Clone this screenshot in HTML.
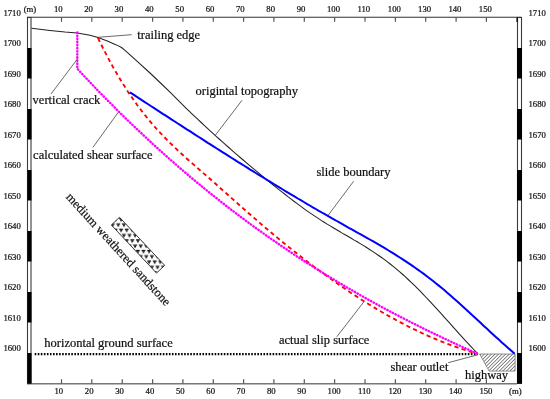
<!DOCTYPE html>
<html><head><meta charset="utf-8"><style>
html,body{margin:0;padding:0;background:#fff;}
svg{display:block;}
text{font-family:"Liberation Serif","Times New Roman",serif;fill:#111;stroke:#111;stroke-width:0.22px;}
</style></head><body>
<svg width="550" height="399" viewBox="0 0 550 399">
<line x1="27" y1="17.3" x2="521.5" y2="17.3" stroke="#333" stroke-width="1.1"/>
<line x1="27" y1="383.7" x2="517" y2="383.7" stroke="#777" stroke-width="1.5"/>
<rect x="27.5" y="17.5" width="3.5" height="366" fill="#fff" stroke="#3a3a3a" stroke-width="1.1"/>
<rect x="27.4" y="48.0" width="4.1" height="30.5" fill="#000"/>
<rect x="27.4" y="109.0" width="4.1" height="30.5" fill="#000"/>
<rect x="27.4" y="170.0" width="4.1" height="30.5" fill="#000"/>
<rect x="27.4" y="231.0" width="4.1" height="30.5" fill="#000"/>
<rect x="27.4" y="292.0" width="4.1" height="30.5" fill="#000"/>
<rect x="27.4" y="353.0" width="4.1" height="30.5" fill="#000"/>
<rect x="517.5" y="17.5" width="4" height="366" fill="#fff" stroke="#3a3a3a" stroke-width="1.1"/>
<rect x="517" y="48.0" width="5" height="30.5" fill="#000"/>
<rect x="517" y="109.0" width="5" height="30.5" fill="#000"/>
<rect x="517" y="170.0" width="5" height="30.5" fill="#000"/>
<rect x="517" y="231.0" width="5" height="30.5" fill="#000"/>
<rect x="517" y="292.0" width="5" height="30.5" fill="#000"/>
<rect x="517" y="353.0" width="5" height="30.5" fill="#000"/>
<line x1="517.2" y1="17.5" x2="517.2" y2="22" stroke="#111" stroke-width="1.6"/>
<line x1="61.5" y1="17.5" x2="61.5" y2="21.8" stroke="#555" stroke-width="1.2"/>
<line x1="61.5" y1="383.5" x2="61.5" y2="379.3" stroke="#555" stroke-width="1.2"/>
<text x="53.9" y="11.8" font-size="8.7">10</text>
<text x="54.5" y="394" font-size="8.7">10</text>
<line x1="91.8" y1="17.5" x2="91.8" y2="21.8" stroke="#555" stroke-width="1.2"/>
<line x1="91.8" y1="383.5" x2="91.8" y2="379.3" stroke="#555" stroke-width="1.2"/>
<text x="84.2" y="11.8" font-size="8.7">20</text>
<text x="84.8" y="394" font-size="8.7">20</text>
<line x1="122.2" y1="17.5" x2="122.2" y2="21.8" stroke="#555" stroke-width="1.2"/>
<line x1="122.2" y1="383.5" x2="122.2" y2="379.3" stroke="#555" stroke-width="1.2"/>
<text x="114.6" y="11.8" font-size="8.7">30</text>
<text x="115.2" y="394" font-size="8.7">30</text>
<line x1="152.6" y1="17.5" x2="152.6" y2="21.8" stroke="#555" stroke-width="1.2"/>
<line x1="152.6" y1="383.5" x2="152.6" y2="379.3" stroke="#555" stroke-width="1.2"/>
<text x="145.0" y="11.8" font-size="8.7">40</text>
<text x="145.6" y="394" font-size="8.7">40</text>
<line x1="182.9" y1="17.5" x2="182.9" y2="21.8" stroke="#555" stroke-width="1.2"/>
<line x1="182.9" y1="383.5" x2="182.9" y2="379.3" stroke="#555" stroke-width="1.2"/>
<text x="175.3" y="11.8" font-size="8.7">50</text>
<text x="175.9" y="394" font-size="8.7">50</text>
<line x1="213.3" y1="17.5" x2="213.3" y2="21.8" stroke="#555" stroke-width="1.2"/>
<line x1="213.3" y1="383.5" x2="213.3" y2="379.3" stroke="#555" stroke-width="1.2"/>
<text x="205.7" y="11.8" font-size="8.7">60</text>
<text x="206.3" y="394" font-size="8.7">60</text>
<line x1="243.6" y1="17.5" x2="243.6" y2="21.8" stroke="#555" stroke-width="1.2"/>
<line x1="243.6" y1="383.5" x2="243.6" y2="379.3" stroke="#555" stroke-width="1.2"/>
<text x="236.0" y="11.8" font-size="8.7">70</text>
<text x="236.6" y="394" font-size="8.7">70</text>
<line x1="273.9" y1="17.5" x2="273.9" y2="21.8" stroke="#555" stroke-width="1.2"/>
<line x1="273.9" y1="383.5" x2="273.9" y2="379.3" stroke="#555" stroke-width="1.2"/>
<text x="266.3" y="11.8" font-size="8.7">80</text>
<text x="266.9" y="394" font-size="8.7">80</text>
<line x1="304.3" y1="17.5" x2="304.3" y2="21.8" stroke="#555" stroke-width="1.2"/>
<line x1="304.3" y1="383.5" x2="304.3" y2="379.3" stroke="#555" stroke-width="1.2"/>
<text x="296.7" y="11.8" font-size="8.7">90</text>
<text x="297.3" y="394" font-size="8.7">90</text>
<line x1="334.6" y1="17.5" x2="334.6" y2="21.8" stroke="#555" stroke-width="1.2"/>
<line x1="334.6" y1="383.5" x2="334.6" y2="379.3" stroke="#555" stroke-width="1.2"/>
<text x="327.0" y="11.8" font-size="8.7">100</text>
<text x="327.6" y="394" font-size="8.7">100</text>
<line x1="365.0" y1="17.5" x2="365.0" y2="21.8" stroke="#555" stroke-width="1.2"/>
<line x1="365.0" y1="383.5" x2="365.0" y2="379.3" stroke="#555" stroke-width="1.2"/>
<text x="357.4" y="11.8" font-size="8.7">110</text>
<text x="358.0" y="394" font-size="8.7">110</text>
<line x1="395.4" y1="17.5" x2="395.4" y2="21.8" stroke="#555" stroke-width="1.2"/>
<line x1="395.4" y1="383.5" x2="395.4" y2="379.3" stroke="#555" stroke-width="1.2"/>
<text x="387.8" y="11.8" font-size="8.7">100</text>
<text x="388.4" y="394" font-size="8.7">120</text>
<line x1="425.7" y1="17.5" x2="425.7" y2="21.8" stroke="#555" stroke-width="1.2"/>
<line x1="425.7" y1="383.5" x2="425.7" y2="379.3" stroke="#555" stroke-width="1.2"/>
<text x="418.1" y="11.8" font-size="8.7">130</text>
<text x="418.7" y="394" font-size="8.7">130</text>
<line x1="456.1" y1="17.5" x2="456.1" y2="21.8" stroke="#555" stroke-width="1.2"/>
<line x1="456.1" y1="383.5" x2="456.1" y2="379.3" stroke="#555" stroke-width="1.2"/>
<text x="448.4" y="11.8" font-size="8.7">140</text>
<text x="449.1" y="394" font-size="8.7">140</text>
<line x1="486.4" y1="17.5" x2="486.4" y2="21.8" stroke="#555" stroke-width="1.2"/>
<line x1="486.4" y1="383.5" x2="486.4" y2="379.3" stroke="#555" stroke-width="1.2"/>
<text x="478.8" y="11.8" font-size="8.7">150</text>
<text x="479.4" y="394" font-size="8.7">150</text>
<text x="30" y="11.9" font-size="8.7" text-anchor="middle">(m)</text>
<text x="515.3" y="394" font-size="8.7" text-anchor="middle">(m)</text>
<text x="20.8" y="351.0" font-size="8.7" text-anchor="end">1600</text>
<text x="528.5" y="351.0" font-size="8.7">1600</text>
<text x="20.8" y="320.5" font-size="8.7" text-anchor="end">1610</text>
<text x="528.5" y="320.5" font-size="8.7">1610</text>
<text x="20.8" y="290.0" font-size="8.7" text-anchor="end">1620</text>
<text x="528.5" y="290.0" font-size="8.7">1620</text>
<text x="20.8" y="259.5" font-size="8.7" text-anchor="end">1630</text>
<text x="528.5" y="259.5" font-size="8.7">1630</text>
<text x="20.8" y="229.0" font-size="8.7" text-anchor="end">1640</text>
<text x="528.5" y="229.0" font-size="8.7">1640</text>
<text x="20.8" y="198.5" font-size="8.7" text-anchor="end">1650</text>
<text x="528.5" y="198.5" font-size="8.7">1650</text>
<text x="20.8" y="168.0" font-size="8.7" text-anchor="end">1660</text>
<text x="528.5" y="168.0" font-size="8.7">1660</text>
<text x="20.8" y="137.5" font-size="8.7" text-anchor="end">1670</text>
<text x="528.5" y="137.5" font-size="8.7">1670</text>
<text x="20.8" y="107.0" font-size="8.7" text-anchor="end">1680</text>
<text x="528.5" y="107.0" font-size="8.7">1680</text>
<text x="20.8" y="76.5" font-size="8.7" text-anchor="end">1690</text>
<text x="528.5" y="76.5" font-size="8.7">1690</text>
<text x="20.8" y="46.0" font-size="8.7" text-anchor="end">1700</text>
<text x="528.5" y="46.0" font-size="8.7">1700</text>
<text x="20.8" y="15.5" font-size="8.7" text-anchor="end">1710</text>
<text x="528.5" y="15.5" font-size="8.7">1710</text>
<line x1="34.7" y1="354.1" x2="478" y2="354.1" stroke="#000" stroke-width="2.2" stroke-dasharray="1.6 1.45"/>
<defs><pattern id="hatch" patternUnits="userSpaceOnUse" width="2.5" height="2.5" patternTransform="rotate(45)"><line x1="0" y1="0" x2="0" y2="2.5" stroke="#000" stroke-width="0.95"/></pattern>
<pattern id="tri" patternUnits="userSpaceOnUse" x="118.3" y="224.8" width="5.6" height="10.6"><path d="M-1.3,-1 L1.3,-1 L0,1.3 Z M1.5,4.3 L4.1,4.3 L2.8,6.6 Z M4.3,-1 L6.9,-1 L5.6,1.3 Z M-1.3,9.6 L1.3,9.6 L0,11.9 Z M4.3,9.6 L6.9,9.6 L5.6,11.9 Z" fill="none" stroke="#111" stroke-width="1.0"/></pattern></defs>
<path d="M479.6,354 L515.1,354 L515.1,371.1 L489.2,371.1 Z" fill="url(#hatch)" stroke="#777" stroke-width="0.8"/>
<path d="M119.5,217.3 L164.7,265.4 L156.5,273.1 L111.3,225.0 Z" fill="url(#tri)" stroke="#222" stroke-width="0.9"/>
<path d="M31.5,28.2 L50.0,30.4 L65.0,32.0 L77.3,33.0 L90.0,35.2 L98.0,37.6 L108.0,41.3 L114.0,43.9 L118.0,45.6 L121.5,47.5 L125.0,50.4 L130.0,54.8 L140.0,63.8 L150.0,73.0 L160.0,82.5 L170.0,92.2 L178.0,100.2 L186.2,108.3 L189.2,111.2 L192.2,114.1 L195.2,116.9 L198.2,119.7 L201.2,122.5 L204.2,125.3 L207.2,128.1 L210.2,130.8 L213.2,133.6 L216.2,136.3 L219.2,139.0 L222.2,141.7 L225.2,144.4 L228.2,147.0 L231.2,149.6 L234.2,152.3 L237.2,154.9 L240.2,157.5 L243.2,160.0 L246.2,162.6 L249.2,165.1 L252.2,167.7 L255.2,170.2 L258.2,172.7 L261.2,175.2 L264.2,177.6 L267.2,180.1 L270.2,182.5 L273.2,185.0 L276.2,187.4 L279.2,189.8 L282.2,192.2 L285.2,194.5 L288.2,196.9 L291.2,199.2 L294.2,201.5 L297.2,203.7 L300.2,205.9 L303.2,208.1 L306.2,210.3 L309.2,212.4 L312.2,214.4 L315.2,216.4 L318.2,218.4 L321.2,220.4 L324.2,222.2 L327.2,224.1 L330.2,225.9 L333.2,227.7 L336.2,229.5 L339.2,231.3 L342.2,233.1 L345.2,234.8 L348.2,236.5 L351.2,238.3 L354.2,240.1 L357.2,241.8 L360.2,243.6 L363.2,245.4 L366.2,247.3 L369.2,249.2 L372.2,251.1 L375.2,253.1 L378.2,255.2 L381.2,257.3 L384.2,259.4 L387.2,261.7 L390.2,264.0 L393.2,266.4 L396.2,268.9 L399.2,271.4 L402.2,274.0 L405.2,276.7 L408.2,279.5 L411.2,282.3 L414.2,285.2 L417.2,288.2 L420.2,291.2 L423.2,294.3 L426.2,297.5 L429.2,300.7 L432.2,303.9 L435.2,307.1 L438.2,310.4 L441.2,313.7 L444.2,317.1 L447.2,320.4 L450.2,323.7 L453.2,327.1 L456.2,330.4 L459.2,333.8 L462.2,337.1 L465.2,340.3 L468.2,343.6 L471.2,346.8 L474.2,350.0 L477.2,353.2 L478.0,354.0" fill="none" stroke="#222" stroke-width="1.05"/>
<path d="M98.0,38.0 L101.0,44.2 L104.0,50.1 L107.0,55.9 L110.0,61.5 L113.0,67.0 L116.0,72.2 L119.0,77.3 L122.0,82.3 L125.0,87.0 L128.0,91.7 L131.0,96.1 L134.0,100.5 L137.0,104.7 L140.0,108.7 L143.0,112.6 L146.0,116.4 L149.0,120.1 L152.0,123.7 L155.0,127.1 L158.0,130.4 L161.0,133.7 L164.0,136.8 L167.0,139.9 L170.0,142.9 L173.0,145.8 L176.0,148.7 L179.0,151.5 L182.0,154.3 L185.0,157.0 L188.0,159.7 L191.0,162.3 L194.0,164.9 L197.0,167.6 L200.0,170.2 L203.0,172.8 L206.0,175.4 L209.0,178.0 L212.0,180.7 L215.0,183.3 L218.0,186.0 L221.0,188.7 L224.0,191.3 L227.0,194.0 L230.0,196.7 L233.0,199.4 L236.0,202.0 L239.0,204.7 L242.0,207.4 L245.0,210.0 L248.0,212.7 L251.0,215.3 L254.0,217.9 L257.0,220.5 L260.0,223.1 L263.0,225.7 L266.0,228.2 L269.0,230.8 L272.0,233.3 L275.0,235.8 L278.0,238.3 L281.0,240.7 L284.0,243.2 L287.0,245.6 L290.0,248.0 L293.0,250.4 L296.0,252.8 L299.0,255.2 L302.0,257.5 L305.0,259.8 L308.0,262.1 L311.0,264.4 L314.0,266.7 L317.0,268.9 L320.0,271.1 L323.0,273.3 L326.0,275.5 L329.0,277.7 L332.0,279.8 L335.0,281.9 L338.0,284.0 L341.0,286.1 L344.0,288.1 L347.0,290.2 L350.0,292.2 L353.0,294.2 L356.0,296.1 L359.0,298.1 L362.0,300.0 L365.0,301.9 L368.0,303.7 L371.0,305.6 L374.0,307.4 L377.0,309.2 L380.0,311.0 L383.0,312.7 L386.0,314.4 L389.0,316.1 L392.0,317.8 L395.0,319.4 L398.0,321.1 L401.0,322.6 L404.0,324.2 L407.0,325.8 L410.0,327.3 L413.0,328.8 L416.0,330.2 L419.0,331.6 L422.0,333.1 L425.0,334.4 L428.0,335.8 L431.0,337.1 L434.0,338.4 L437.0,339.7 L440.0,340.9 L443.0,342.1 L446.0,343.3 L449.0,344.4 L452.0,345.5 L455.0,346.6 L458.0,347.7 L461.0,348.7 L464.0,349.7 L467.0,350.7 L470.0,351.6 L473.0,352.5 L476.0,353.4 L478.0,354.0" fill="none" stroke="#ff0000" stroke-width="1.85" stroke-dasharray="4.2 3.3"/>
<path d="M77.3,32.5 L77.3,68.7 L80.3,71.9 L83.3,75.2 L86.3,78.3 L89.3,81.5 L92.3,84.7 L95.3,87.8 L98.3,90.9 L101.3,94.0 L104.3,97.1 L107.3,100.1 L110.3,103.1 L113.3,106.1 L116.3,109.1 L119.3,112.1 L122.3,115.0 L125.3,118.0 L128.3,120.9 L131.3,123.8 L134.3,126.6 L137.3,129.5 L140.3,132.3 L143.3,135.1 L146.3,137.9 L149.3,140.7 L152.3,143.5 L155.3,146.2 L158.3,148.9 L161.3,151.6 L164.3,154.3 L167.3,157.0 L170.3,159.6 L173.3,162.2 L176.3,164.9 L179.3,167.5 L182.3,170.0 L185.3,172.6 L188.3,175.1 L191.3,177.7 L194.3,180.2 L197.3,182.7 L200.3,185.1 L203.3,187.6 L206.3,190.0 L209.3,192.5 L212.3,194.9 L215.3,197.2 L218.3,199.6 L221.3,202.0 L224.3,204.3 L227.3,206.6 L230.3,209.0 L233.3,211.2 L236.3,213.5 L239.3,215.8 L242.3,218.0 L245.3,220.3 L248.3,222.5 L251.3,224.7 L254.3,226.9 L257.3,229.0 L260.3,231.2 L263.3,233.3 L266.3,235.5 L269.3,237.6 L272.3,239.7 L275.3,241.7 L278.3,243.8 L281.3,245.9 L284.3,247.9 L287.3,249.9 L290.3,251.9 L293.3,253.9 L296.3,255.9 L299.3,257.9 L302.3,259.8 L305.3,261.8 L308.3,263.7 L311.3,265.6 L314.3,267.5 L317.3,269.4 L320.3,271.3 L323.3,273.1 L326.3,275.0 L329.3,276.8 L332.3,278.6 L335.3,280.4 L338.3,282.2 L341.3,284.0 L344.3,285.8 L347.3,287.6 L350.3,289.3 L353.3,291.0 L356.3,292.8 L359.3,294.5 L362.3,296.2 L365.3,297.9 L368.3,299.6 L371.3,301.2 L374.3,302.9 L377.3,304.5 L380.3,306.2 L383.3,307.8 L386.3,309.4 L389.3,311.0 L392.3,312.6 L395.3,314.2 L398.3,315.7 L401.3,317.3 L404.3,318.8 L407.3,320.4 L410.3,321.9 L413.3,323.4 L416.3,324.9 L419.3,326.4 L422.3,327.9 L425.3,329.4 L428.3,330.9 L431.3,332.3 L434.3,333.8 L437.3,335.2 L440.3,336.6 L443.3,338.1 L446.3,339.5 L449.3,340.9 L452.3,342.3 L455.3,343.7 L458.3,345.1 L461.3,346.4 L464.3,347.8 L467.3,349.1 L470.3,350.5 L473.3,351.8 L476.3,353.2 L478.2,354.0" fill="none" stroke="#ff00ff" stroke-width="2.4" stroke-dasharray="0.4 2.7" stroke-linecap="round"/>
<path d="M129.8,92.3 L132.8,94.2 L135.8,96.2 L138.8,98.1 L141.8,100.1 L144.8,102.1 L147.8,104.0 L150.8,106.0 L153.8,107.9 L156.8,109.9 L159.8,111.8 L162.8,113.8 L165.8,115.7 L168.8,117.6 L171.8,119.6 L174.8,121.5 L177.8,123.5 L180.8,125.4 L183.8,127.3 L186.8,129.3 L189.8,131.2 L192.8,133.1 L195.8,135.1 L198.8,137.0 L201.8,138.9 L204.8,140.8 L207.8,142.8 L210.8,144.7 L213.8,146.6 L216.8,148.5 L219.8,150.4 L222.8,152.3 L225.8,154.2 L228.8,156.1 L231.8,158.0 L234.8,159.9 L237.8,161.8 L240.8,163.6 L243.8,165.5 L246.8,167.4 L249.8,169.3 L252.8,171.1 L255.8,173.0 L258.8,174.8 L261.8,176.7 L264.8,178.5 L267.8,180.4 L270.8,182.2 L273.8,184.0 L276.8,185.8 L279.8,187.7 L282.8,189.5 L285.8,191.3 L288.8,193.1 L291.8,194.9 L294.8,196.7 L297.8,198.5 L300.8,200.2 L303.8,202.0 L306.8,203.8 L309.8,205.5 L312.8,207.3 L315.8,209.0 L318.8,210.8 L321.8,212.5 L324.8,214.2 L327.8,215.9 L330.8,217.6 L333.8,219.3 L336.8,221.0 L339.8,222.7 L342.8,224.4 L345.8,226.1 L348.8,227.8 L351.8,229.4 L354.8,231.1 L357.8,232.8 L360.8,234.4 L363.8,236.1 L366.8,237.8 L369.8,239.5 L372.8,241.2 L375.8,242.9 L378.8,244.7 L381.8,246.4 L384.8,248.2 L387.8,250.0 L390.8,251.8 L393.8,253.7 L396.8,255.6 L399.8,257.5 L402.8,259.4 L405.8,261.4 L408.8,263.4 L411.8,265.4 L414.8,267.5 L417.8,269.6 L420.8,271.7 L423.8,273.9 L426.8,276.2 L429.8,278.5 L432.8,280.8 L435.8,283.2 L438.8,285.6 L441.8,288.1 L444.8,290.6 L447.8,293.2 L450.8,295.8 L453.8,298.4 L456.8,301.1 L459.8,303.8 L462.8,306.5 L465.8,309.2 L468.8,312.0 L471.8,314.7 L474.8,317.5 L477.8,320.3 L480.8,323.1 L483.8,325.9 L486.8,328.6 L489.8,331.4 L492.8,334.2 L495.8,336.9 L498.8,339.6 L501.8,342.4 L504.8,345.0 L507.8,347.7 L510.8,350.3 L513.8,352.9 L514.7,353.7" fill="none" stroke="#0000ff" stroke-width="2"/>
<line x1="98" y1="37.3" x2="131.7" y2="34.7" stroke="#444" stroke-width="0.8"/>
<line x1="242" y1="100.3" x2="215.5" y2="135" stroke="#444" stroke-width="0.8"/>
<line x1="353.6" y1="181.3" x2="328.3" y2="215.1" stroke="#444" stroke-width="0.8"/>
<line x1="364.2" y1="301.4" x2="336.8" y2="336.8" stroke="#444" stroke-width="0.8"/>
<line x1="448.2" y1="362.7" x2="477" y2="355" stroke="#444" stroke-width="0.8"/>
<line x1="77.3" y1="59.1" x2="51" y2="94" stroke="#444" stroke-width="0.8"/>
<line x1="118.2" y1="112.4" x2="92.9" y2="147.4" stroke="#444" stroke-width="0.8"/>
<text x="137.3" y="39.3" font-size="12.5">trailing edge</text>
<text x="195.5" y="95.1" font-size="12.5">origintal topography</text>
<text x="316.5" y="176.10000000000002" font-size="12.5">slide boundary</text>
<text x="279" y="344.40000000000003" font-size="12.5">actual slip surface</text>
<text x="390.4" y="371.2" font-size="12.5">shear outlet</text>
<text x="465" y="378.90000000000003" font-size="12.5">highway</text>
<text x="32.6" y="104.2" font-size="12.5">vertical crack</text>
<text x="33.1" y="159.20000000000002" font-size="12.5">calculated shear surface</text>
<text x="44.3" y="347.2" font-size="12.5">horizontal ground surface</text>
<text x="0" y="0" font-size="12.5" transform="translate(65.5,197.6) rotate(47.5)">medium weathered sandstone</text>
</svg>
</body></html>
